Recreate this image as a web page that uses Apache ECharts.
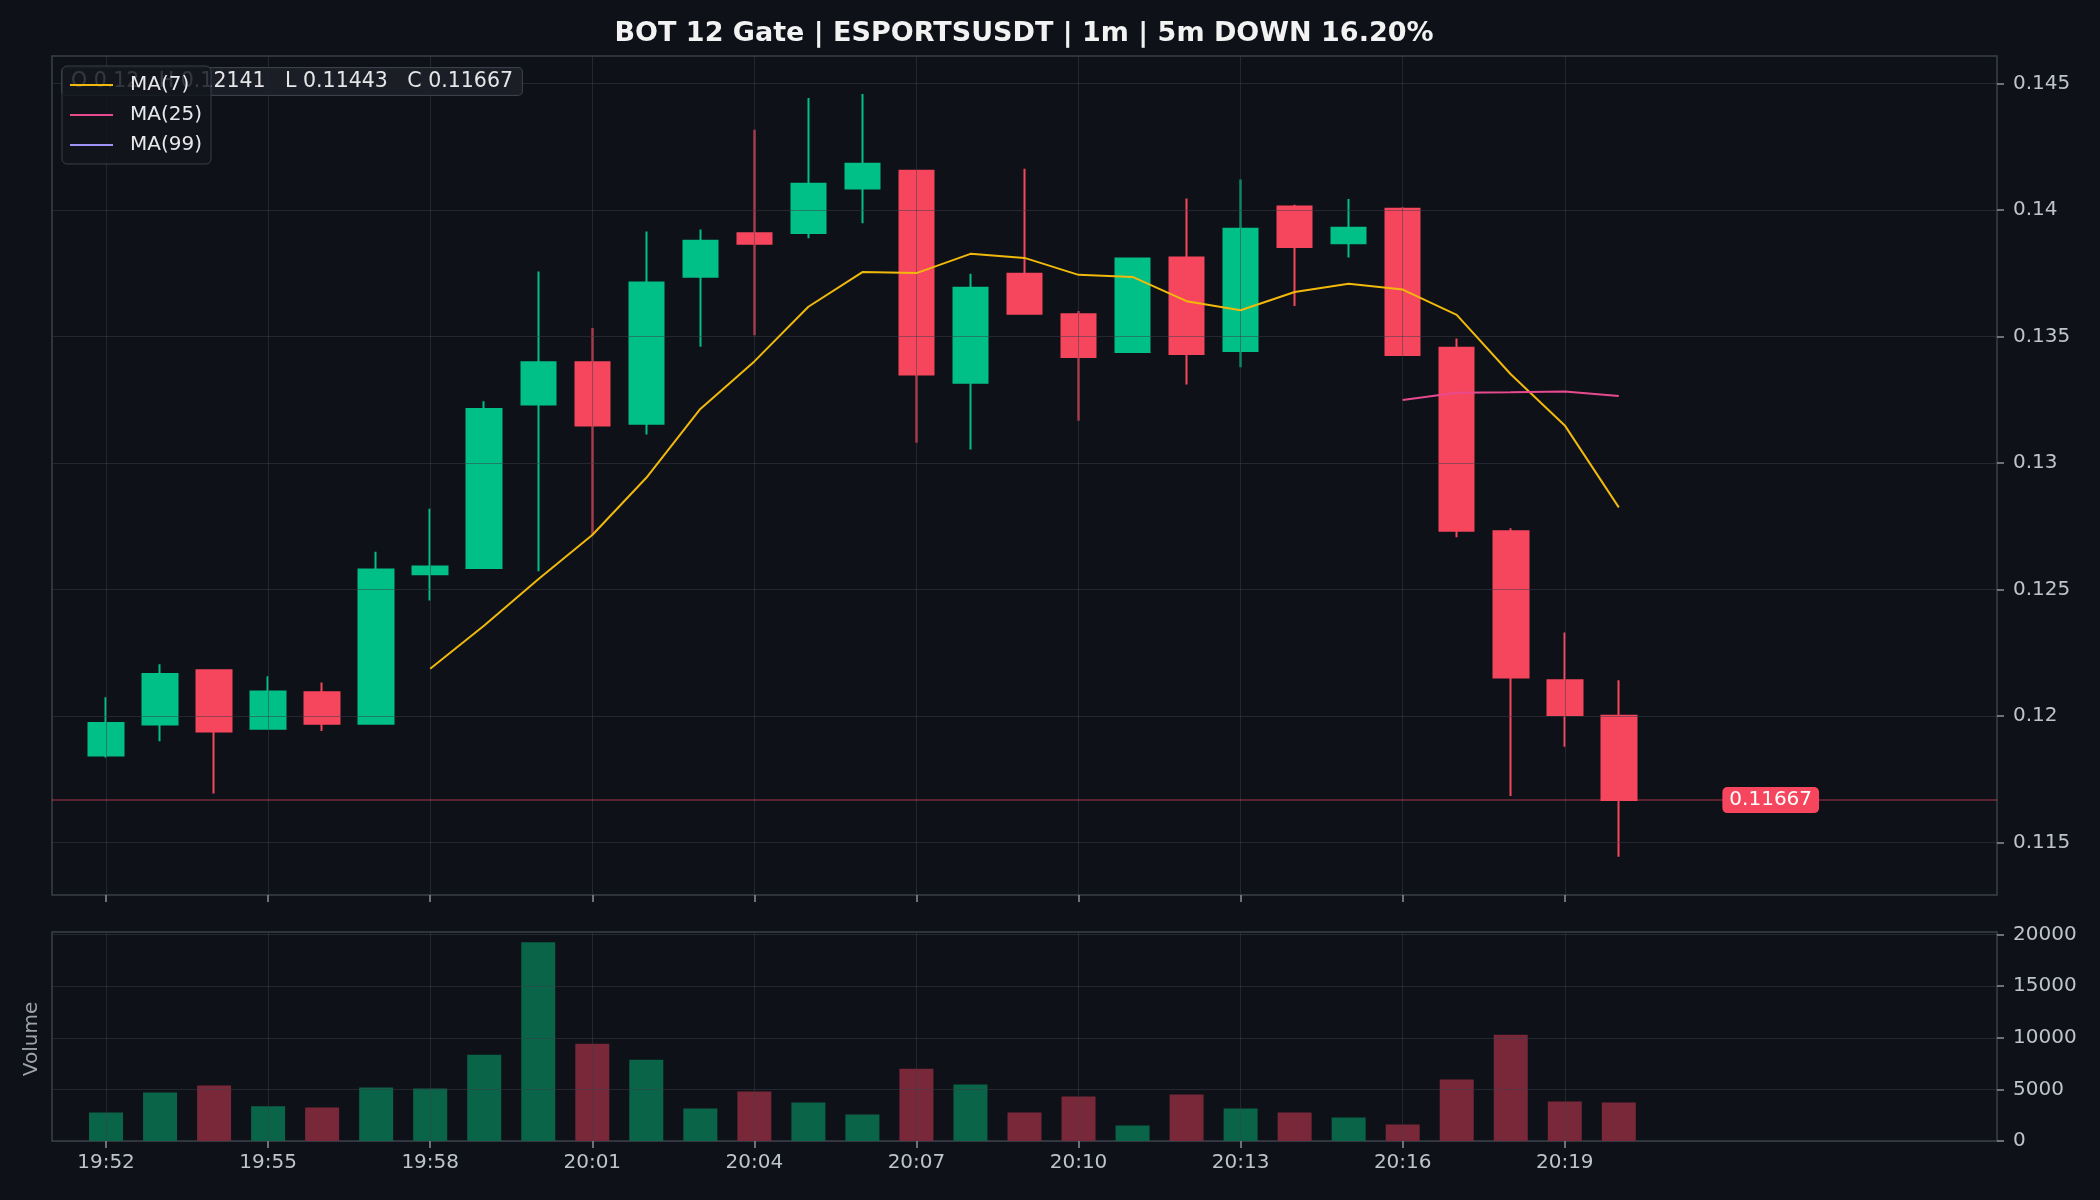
<!DOCTYPE html>
<html>
<head>
<meta charset="utf-8" />
<title>BOT 12 Gate | ESPORTSUSDT | 1m</title>
<script src="https://cdn.jsdelivr.net/npm/echarts@6/dist/echarts.min.js" type="text/javascript" charset="utf-8"></script>
<style>
  html, body { margin: 0; padding: 0; background: #0e1117; }
  #main { width: 2100px; height: 1200px; }
</style>
</head>
<body>
<div id="main"></div>
<script type="text/javascript">
// candle times (1m)
var times = ['19:52', '19:53', '19:54', '19:55', '19:56', '19:57', '19:58', '19:59', '20:00', '20:01',
  '20:02', '20:03', '20:04', '20:05', '20:06', '20:07', '20:08', '20:09', '20:10', '20:11',
  '20:12', '20:13', '20:14', '20:15', '20:16', '20:17', '20:18', '20:19', '20:20'];
// empty slots left / right of the candles
var padBefore = ['19:51'];
var padAfter = ['20:21', '20:22', '20:23', '20:24', '20:25', '20:26', '20:27'];

var opens = [0.11843, 0.11966, 0.12180, 0.11949, 0.12093, 0.11969, 0.12560, 0.12584, 0.13231, 0.13398,
  0.13155, 0.13736, 0.13907, 0.13908, 0.14084, 0.14154, 0.13317, 0.13747, 0.13587, 0.13438,
  0.13812, 0.13442, 0.14013, 0.13868, 0.14004, 0.13455, 0.12730, 0.12141, 0.12000];
var closes = [0.11972, 0.12165, 0.11938, 0.12096, 0.11969, 0.12578, 0.12590, 0.13213, 0.13398, 0.13148,
  0.13713, 0.13878, 0.13866, 0.14103, 0.14182, 0.13349, 0.13692, 0.13589, 0.13418, 0.13808,
  0.13430, 0.13925, 0.13853, 0.13929, 0.13426, 0.12732, 0.12152, 0.12003, 0.11667];
var lows = [0.11835, 0.11900, 0.11693, 0.11945, 0.11940, 0.11969, 0.12456, 0.12580, 0.12572, 0.12715,
  0.13112, 0.13459, 0.13504, 0.13888, 0.13947, 0.13079, 0.13053, 0.13589, 0.13166, 0.13434,
  0.13310, 0.13378, 0.13620, 0.13812, 0.13426, 0.12706, 0.11683, 0.11878, 0.11443];
var highs = [0.12074, 0.12204, 0.12180, 0.12157, 0.12132, 0.12649, 0.12819, 0.13243, 0.13756, 0.13533,
  0.13914, 0.13922, 0.14317, 0.14442, 0.14458, 0.14154, 0.13747, 0.14162, 0.13600, 0.13808,
  0.14045, 0.14120, 0.14020, 0.14043, 0.14010, 0.13491, 0.12742, 0.12329, 0.12141];
var volumes = [2765, 4695, 5370, 3376, 3248, 5177, 5080, 8360, 19260, 9421,
  7878, 3151, 4791, 3730, 2572, 7010, 5466, 2765, 4309, 1511,
  4502, 3151, 2765, 2283, 1608, 5949, 10289, 3826, 3730];

// moving averages as drawn (first value sits on candle index maStart)
var ma7Start = 6;
var ma7 = [0.12186, 0.12357, 0.12540, 0.12715, 0.12941, 0.13213, 0.13401, 0.13617, 0.13754, 0.13750,
  0.13826, 0.13810, 0.13743, 0.13735, 0.13639, 0.13603, 0.13675, 0.13708, 0.13685, 0.13585,
  0.13350, 0.13148, 0.12824];
var ma25Start = 24;
var ma25 = [0.13248, 0.13277, 0.13279, 0.13282, 0.13264];
var ma99 = [];

var priceTicks = [0.115, 0.12, 0.125, 0.13, 0.135, 0.14, 0.145];
var volumeTicks = [0, 5000, 10000, 15000, 20000];

var upColor = '#00c087';
var downColor = '#f6465d';
var volUpColor = '#0a6548';
var volDownColor = '#782838';
var gridColor = 'rgba(58,62,74,0.5)';
var frameColor = '#3a3f4a';
var labelColor = '#bfc3ca';
var font = 'DejaVu Sans';

var axisTimes = padBefore.concat(times, padAfter);
var off = padBefore.length;

function padSeries(values, start) {
  var out = [];
  for (var i = 0; i < axisTimes.length; i++) {
    var k = i - off - start;
    out.push(k >= 0 && k < values.length ? values[k] : '-');
  }
  return out;
}

var kData = [];
var volData = [];
for (var i = 0; i < axisTimes.length; i++) {
  var j = i - off;
  if (j >= 0 && j < times.length) {
    kData.push([opens[j], closes[j], lows[j], highs[j]]);
    volData.push({ value: volumes[j], itemStyle: { color: closes[j] >= opens[j] ? volUpColor : volDownColor } });
  } else {
    kData.push(['-', '-', '-', '-']);
    volData.push('-');
  }
}

var last = times.length - 1;
var lastClose = closes[last];
var infoText = 'O ' + opens[last] + '   H ' + highs[last] + '   L ' + lows[last] + '   C ' + lastClose;

// every 3rd minute gets a label, only under the candles
function showTime(idx) {
  var j = idx - off;
  return j >= 0 && j < times.length && j % 3 === 0;
}

var dom = document.getElementById('main');
var myChart = echarts.init(dom, null, { renderer: 'canvas' });

var option = {
  backgroundColor: '#0e1117',
  animation: false,
  textStyle: { fontFamily: font },
  legend: {
    data: [
      { name: 'MA(7)', icon: 'rect' },
      { name: 'MA(25)', icon: 'rect' },
      { name: 'MA(99)', icon: 'rect' }
    ],
    orient: 'vertical',
    left: 62,
    top: 66,
    z: 20,
    padding: [9, 9, 9, 8],
    itemWidth: 43,
    itemHeight: 2,
    itemGap: 10,
    selectedMode: false,
    backgroundColor: 'rgba(18,21,28,0.84)',
    borderColor: frameColor,
    borderWidth: 1,
    borderRadius: 5,
    textStyle: { color: '#e8e8ea', fontSize: 20, fontFamily: font, padding: [0, 0, 0, 12] }
  },
  graphic: [
    {
      type: 'text',
      x: 1024,
      y: 34,
      z: 10,
      style: {
        text: 'BOT 12 Gate | ESPORTSUSDT | 1m | 5m DOWN 16.20%',
        font: 'bold 27px "DejaVu Sans"',
        fill: '#f2f2f2',
        textAlign: 'center',
        textVerticalAlign: 'middle'
      }
    },
    {
      type: 'text',
      x: 62,
      y: 68,
      z: 10,
      style: {
        text: infoText,
        font: '20.5px "DejaVu Sans"',
        fill: '#e6e6e8',
        textVerticalAlign: 'top',
        backgroundColor: 'rgba(28,32,40,0.92)',
        borderColor: frameColor,
        borderWidth: 1,
        borderRadius: 4,
        padding: [3, 9, 3, 9]
      }
    },
    {
      type: 'text',
      x: 32,
      y: 1039,
      rotation: Math.PI / 2,
      style: {
        text: 'Volume',
        font: '20px "DejaVu Sans"',
        fill: '#9ea3ab',
        textAlign: 'center',
        textVerticalAlign: 'middle'
      }
    }
  ],
  grid: [
    { left: 52, right: 103, top: 56, height: 839, show: true, borderColor: frameColor, borderWidth: 1.5, backgroundColor: 'transparent' },
    { left: 52, right: 103, top: 932, height: 209, show: true, borderColor: frameColor, borderWidth: 1.5, backgroundColor: 'transparent' }
  ],
  xAxis: [
    {
      type: 'category',
      gridIndex: 0,
      data: axisTimes,
      boundaryGap: false,
      z: 3,
      axisLine: { show: false },
      axisTick: { show: true, interval: showTime, length: 7, lineStyle: { color: '#8c9099', width: 1.5 } },
      axisLabel: { show: false },
      splitLine: { show: true, interval: showTime, lineStyle: { color: gridColor, width: 1 } }
    },
    {
      type: 'category',
      gridIndex: 1,
      data: axisTimes,
      boundaryGap: false,
      z: 3,
      axisLine: { show: false },
      axisTick: { show: true, interval: showTime, length: 7, lineStyle: { color: '#8c9099', width: 1.5 } },
      axisLabel: { show: true, interval: showTime, margin: 12, color: labelColor, fontSize: 20, fontFamily: font },
      splitLine: { show: true, interval: showTime, lineStyle: { color: gridColor, width: 1 } }
    }
  ],
  yAxis: [
    {
      type: 'value',
      gridIndex: 0,
      position: 'right',
      min: 0.11292,
      max: 0.14608,
      z: 3,
      axisLine: { show: false },
      axisTick: { show: true, customValues: priceTicks, length: 7, lineStyle: { color: '#8c9099', width: 1.5 } },
      axisLabel: { show: true, customValues: priceTicks, margin: 16, color: labelColor, fontSize: 20, fontFamily: font },
      splitLine: { show: true, lineStyle: { color: gridColor, width: 1 } }
    },
    {
      type: 'value',
      gridIndex: 1,
      position: 'right',
      min: 0,
      max: 20250,
      z: 3,
      axisLine: { show: false },
      axisTick: { show: true, customValues: volumeTicks, length: 7, lineStyle: { color: '#8c9099', width: 1.5 } },
      axisLabel: {
        show: true, customValues: volumeTicks, margin: 16, color: labelColor, fontSize: 20, fontFamily: font,
        formatter: function (v) { return String(v); }
      },
      splitLine: { show: true, lineStyle: { color: gridColor, width: 1 } }
    }
  ],
  series: [
    {
      name: 'Price',
      type: 'candlestick',
      xAxisIndex: 0,
      yAxisIndex: 0,
      barWidth: 35,
      data: kData,
      itemStyle: {
        color: upColor,
        color0: downColor,
        borderColor: upColor,
        borderColor0: downColor,
        borderWidth: 2
      },
      markLine: {
        silent: true,
        precision: 6,
        symbol: ['none', 'none'],
        label: { show: false },
        lineStyle: { color: 'rgba(246,70,93,0.45)', width: 1.5, type: 'solid' },
        data: [{ yAxis: lastClose }]
      },
      markPoint: {
        silent: true,
        symbol: 'rect',
        symbolSize: [1, 1],
        itemStyle: { color: 'rgba(0,0,0,0)' },
        label: {
          show: true,
          position: 'right',
          distance: 0,
          offset: [-5, 0],
          formatter: lastClose.toFixed(5),
          color: '#ffffff',
          fontSize: 20,
          fontFamily: font,
          backgroundColor: downColor,
          padding: [3, 7, 3, 7],
          borderRadius: 5
        },
        data: [{ coord: [off + times.length + 1, lastClose] }]
      }
    },
    {
      name: 'MA(7)',
      type: 'line',
      xAxisIndex: 0,
      yAxisIndex: 0,
      data: padSeries(ma7, ma7Start),
      symbol: 'none',
      showSymbol: false,
      lineStyle: { color: '#f0b90b', width: 2 },
      itemStyle: { color: '#f0b90b' }
    },
    {
      name: 'MA(25)',
      type: 'line',
      xAxisIndex: 0,
      yAxisIndex: 0,
      data: padSeries(ma25, ma25Start),
      symbol: 'none',
      showSymbol: false,
      lineStyle: { color: '#e84a8f', width: 2 },
      itemStyle: { color: '#e84a8f' }
    },
    {
      name: 'MA(99)',
      type: 'line',
      xAxisIndex: 0,
      yAxisIndex: 0,
      data: padSeries(ma99, 0),
      symbol: 'none',
      showSymbol: false,
      lineStyle: { color: '#a192f5', width: 2 },
      itemStyle: { color: '#a192f5' }
    },
    {
      name: 'Volume',
      type: 'bar',
      xAxisIndex: 1,
      yAxisIndex: 1,
      barWidth: 34,
      data: volData
    }
  ]
};
myChart.setOption(option);
</script>
</body>
</html>
